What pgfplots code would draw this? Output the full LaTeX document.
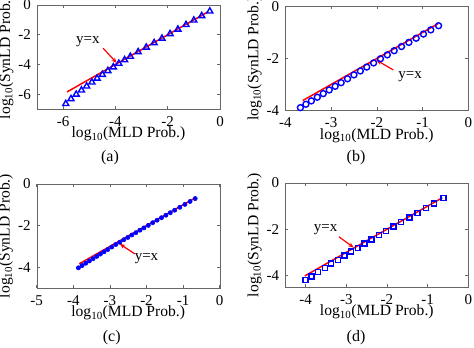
\documentclass[border=0pt]{standalone}
\usepackage{fontspec}
\setmainfont{Liberation Serif}
\usepackage{pgfplots}
\pgfplotsset{compat=1.18}
\usetikzlibrary{arrows.meta}
\definecolor{mblue}{RGB}{0,0,255}
\definecolor{mred}{RGB}{255,0,0}
\pgfplotsset{
  myax/.style={
    scale only axis, width=183bp, height=104bp, anchor=south west, clip=false,
    font=\fontsize{15bp}{17bp}\selectfont,
    axis line style={black!60}, tick style={black!60, line width=0.5pt},
    tick align=inside, major tick length=3bp,
    xlabel={log\textsubscript{10}(MLD Prob.)},
    ylabel={log\textsubscript{10}(SynLD Prob.)},
    xticklabel style={inner sep=0pt, anchor=north, yshift=-7bp},
    yticklabel style={inner sep=0pt, anchor=east, xshift=-6bp},
    xlabel style={at={(axis description cs:0.5,-0.172)}, anchor=north, inner sep=0pt, font=\fontsize{15.6bp}{17bp}\selectfont},
    ylabel style={at={(axis description cs:-0.128,0.5)}, anchor=south, inner sep=0pt, font=\fontsize{15.6bp}{17bp}\selectfont},
  },
  dat/.style={only marks, color=mblue, line width=1.4pt, mark options={solid}},
  yx/.style={color=mred, line width=1.5pt, no marks},
}
\tikzset{arr/.style={draw=mred, line width=1.2pt, -{Stealth[length=5.5pt,width=4.5pt]}}}
\begin{document}
\begin{tikzpicture}
\useasboundingbox (0,0) rectangle (474bp,348bp);
% (a)
\begin{axis}[myax, at={(37bp,239bp)}, xmin=-7, xmax=0, ymin=-7, ymax=0,
  xtick={-6,-4,-2,0}, xticklabels={-6,-4,-2,0},
  ytick={-6,-4,-2,0}, yticklabels={-6,-4,-2,0}]
\addplot[dat, mark=triangle, mark size=3.5pt] coordinates {
(-5.90,-6.65) (-5.70,-6.32) (-5.50,-6.02) (-5.30,-5.74) (-5.10,-5.47)
(-4.90,-5.20) (-4.70,-4.94) (-4.50,-4.69) (-4.29,-4.43) (-4.08,-4.18)
(-3.87,-3.94) (-3.65,-3.70) (-3.43,-3.47) (-3.13,-3.16) (-2.82,-2.85)
(-2.52,-2.55) (-2.22,-2.25) (-1.91,-1.94) (-1.61,-1.64) (-1.30,-1.33)
(-1.00,-1.03) (-0.70,-0.73) (-0.39,-0.42)};
\addplot[yx] coordinates {(-5.85,-5.85) (-0.45,-0.45)};
\node[anchor=center] at (axis cs:-5.05,-2.45) {y=x};
\draw[arr] (axis cs:-4.47,-2.91) -- (axis cs:-3.95,-3.9);
\end{axis}
% (b)
\begin{axis}[myax, at={(285.3bp,237.5bp)}, xmin=-4, xmax=0, ymin=-4, ymax=0,
  xtick={-4,-3,-2,-1,0}, xticklabels={-4,-3,-2,-1,0},
  ytick={-4,-2,0}, yticklabels={-4,-2,0}]
\addplot[dat, mark=o, mark size=3pt] coordinates {
(-3.67,-3.89) (-3.55,-3.76) (-3.43,-3.63) (-3.30,-3.49) (-3.17,-3.35)
(-3.04,-3.21) (-2.91,-3.07) (-2.78,-2.93) (-2.64,-2.78) (-2.50,-2.63)
(-2.36,-2.48) (-2.22,-2.33) (-2.07,-2.17) (-1.92,-2.01) (-1.77,-1.86)
(-1.62,-1.70) (-1.46,-1.54) (-1.30,-1.38) (-1.14,-1.22) (-0.98,-1.06)
(-0.82,-0.90) (-0.65,-0.74)};
\addplot[yx] coordinates {(-3.62,-3.62) (-0.66,-0.66)};
\node[anchor=center] at (axis cs:-1.27,-2.69) {y=x};
\draw[arr] (axis cs:-1.64,-2.44) -- (axis cs:-2.01,-2.06);
\end{axis}
% (c)
\begin{axis}[myax, at={(36.7bp,60bp)}, xmin=-5, xmax=0, ymin=-5, ymax=0,
  xtick={-5,-4,-3,-2,-1,0}, xticklabels={-5,-4,-3,-2,-1,0},
  ytick={-4,-2,0}, yticklabels={-4,-2,0}]
\addplot[dat, mark=*, mark size=2.1pt, line width=0.6pt, mark options={fill=mblue}] coordinates {
(-3.86,-4.03) (-3.76,-3.92) (-3.66,-3.81) (-3.56,-3.70) (-3.46,-3.59)
(-3.36,-3.48) (-3.26,-3.37) (-3.16,-3.26) (-3.06,-3.15) (-2.95,-3.03)
(-2.84,-2.91) (-2.73,-2.80) (-2.62,-2.68) (-2.51,-2.57) (-2.40,-2.45)
(-2.29,-2.34) (-2.18,-2.22) (-2.07,-2.11) (-1.95,-1.99) (-1.83,-1.86)
(-1.71,-1.74) (-1.59,-1.62) (-1.47,-1.50) (-1.35,-1.38) (-1.23,-1.26)
(-1.09,-1.12) (-0.95,-0.98) (-0.81,-0.84) (-0.67,-0.70)};
\addplot[yx] coordinates {(-3.84,-3.84) (-0.70,-0.70)};
\node[anchor=center] at (axis cs:-2.0,-3.6) {y=x};
\draw[arr] (axis cs:-2.32,-3.36) -- (axis cs:-2.73,-2.88);
\end{axis}
% (d)
\begin{axis}[myax, at={(285.3bp,61bp)}, xmin=-4.5, xmax=0, ymin=-4.5, ymax=0,
  xtick={-4,-3,-2,-1,0}, xticklabels={-4,-3,-2,-1,0},
  ytick={-4,-2,0}, yticklabels={-4,-2,0}]
\addplot[dat, mark=square, mark size=2.5pt] coordinates {
(-4.00,-4.20) (-3.86,-4.04) (-3.70,-3.86) (-3.53,-3.67) (-3.37,-3.49)
(-3.21,-3.32) (-3.04,-3.14) (-2.88,-2.97) (-2.72,-2.80) (-2.55,-2.62)
(-2.38,-2.44) (-2.20,-2.25) (-2.02,-2.07) (-1.84,-1.88) (-1.65,-1.69)
(-1.45,-1.49) (-1.25,-1.29) (-1.04,-1.08) (-0.84,-0.88) (-0.61,-0.66)};
\addplot[yx] coordinates {(-4.02,-4.02) (-0.64,-0.64)};
\node[anchor=center] at (axis cs:-3.51,-2.04) {y=x};
\draw[arr] (axis cs:-3.18,-2.33) -- (axis cs:-2.82,-2.79);
\end{axis}
% captions
\node[font=\fontsize{16bp}{18bp}\selectfont] at (110bp,190bp) {(a)};
\node[font=\fontsize{16bp}{18bp}\selectfont] at (356bp,190bp) {(b)};
\node[font=\fontsize{16bp}{18bp}\selectfont] at (111.7bp,10.7bp) {(c)};
\node[font=\fontsize{16bp}{18bp}\selectfont] at (356bp,10.7bp) {(d)};
\end{tikzpicture}
\end{document}
